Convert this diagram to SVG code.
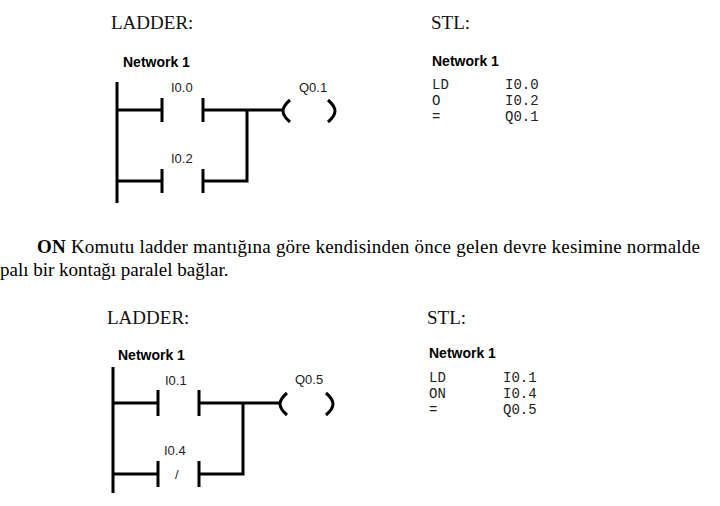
<svg xmlns="http://www.w3.org/2000/svg" width="720" height="506" viewBox="0 0 720 506">
<style>
.w{stroke:#000;stroke-width:3;fill:none}
.c{stroke:#000;stroke-width:3;fill:none}
.t{font-family:"Liberation Serif",serif;font-size:19px;fill:#111}
.n{font-family:"Liberation Sans",sans-serif;font-size:14px;font-weight:bold;fill:#000}
.l{font-family:"Liberation Sans",sans-serif;font-size:13px;fill:#222}
.s{font-family:"Liberation Mono",monospace;font-size:14px;fill:#222}
.p{font-family:"Liberation Serif",serif;font-size:19px;fill:#000}
</style>
<rect width="720" height="506" fill="#fff"/>
<g id="ladder1">
<text class="t" x="111" y="29">LADDER:</text>
<text class="n" x="123" y="67">Network 1</text>
<text class="l" x="171" y="92">I0.0</text>
<text class="l" x="299" y="92">Q0.1</text>
<text class="l" x="171" y="163">I0.2</text>
<path class="w" d="M117 82V203M117 110H162M162 98V122M203 98V122M203 110H283M247 110V181H203M117 181H162M162 169V193M203 169V193"/>
<path class="c" d="M290 100Q283 106 283 111Q283 116 290 122M328 100Q335 106 335 111Q335 116 328 122"/>
</g>
<g id="stl1">
<text class="t" x="431" y="29">STL:</text>
<text class="n" x="432" y="66">Network 1</text>
<text class="s" x="432" y="89">LD</text><text class="s" x="505" y="89">I0.0</text>
<text class="s" x="432" y="105">O</text><text class="s" x="505" y="105">I0.2</text>
<text class="s" x="432" y="121">=</text><text class="s" x="505" y="121">Q0.1</text>
</g>
<g id="paragraph">
<text class="p" x="37" y="253" textLength="663" lengthAdjust="spacing"><tspan font-weight="bold">ON</tspan> Komutu ladder mantığına göre kendisinden önce gelen devre kesimine normalde</text>
<text class="p" x="0" y="276">palı bir kontağı paralel bağlar.</text>
</g>
<g id="ladder2">
<text class="t" x="107" y="324">LADDER:</text>
<text class="n" x="118" y="360">Network 1</text>
<text class="l" x="165" y="385">I0.1</text>
<text class="l" x="295" y="384">Q0.5</text>
<text class="l" x="164" y="455">I0.4</text>
<text class="l" x="175" y="479">/</text>
<path class="w" d="M113 367V493M113 403H158M158 390V416M199 390V416M199 403H280M243 403V474H199M113 474H158M158 461V487M199 461V487"/>
<path class="c" d="M287 393Q280 399 280 404Q280 409 287 415M326 393Q333 399 333 404Q333 409 326 415"/>
</g>
<g id="stl2">
<text class="t" x="427" y="324">STL:</text>
<text class="n" x="429" y="358">Network 1</text>
<text class="s" x="429" y="382">LD</text><text class="s" x="503" y="382">I0.1</text>
<text class="s" x="429" y="398">ON</text><text class="s" x="503" y="398">I0.4</text>
<text class="s" x="429" y="414">=</text><text class="s" x="503" y="414">Q0.5</text>
</g>
<g id="connectors"></g>
</svg>
